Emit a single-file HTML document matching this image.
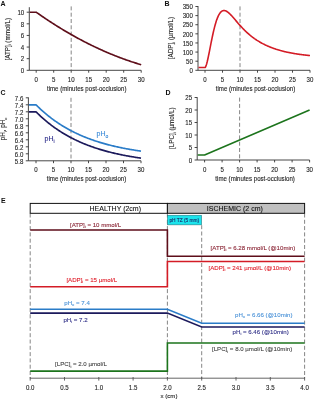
<!DOCTYPE html>
<html><head><meta charset="utf-8"><style>
html,body{margin:0;padding:0;background:#fff;}
svg{display:block;will-change:transform;}
text{font-family:"Liberation Sans", sans-serif;}
</style></head><body>
<svg width="314" height="400" viewBox="0 0 314 400">
<rect width="314" height="400" fill="#fff"/>
<path d="M29.3,7.2 V70.3 H141.2" fill="none" stroke="#333" stroke-width="0.9"/>
<path d="M26.7,70.3 H29.3" stroke="#333" stroke-width="0.9"/>
<text transform="translate(24.200000000000003,73.05) scale(1,1.07)" x="0" y="0" font-size="6.12" text-anchor="end" fill="#222" stroke="#222" stroke-width="0.1" font-weight="normal" >0</text>
<path d="M26.7,58.68 H29.3" stroke="#333" stroke-width="0.9"/>
<text transform="translate(24.200000000000003,61.43) scale(1,1.07)" x="0" y="0" font-size="6.12" text-anchor="end" fill="#222" stroke="#222" stroke-width="0.1" font-weight="normal" >2</text>
<path d="M26.7,47.06 H29.3" stroke="#333" stroke-width="0.9"/>
<text transform="translate(24.200000000000003,49.81) scale(1,1.07)" x="0" y="0" font-size="6.12" text-anchor="end" fill="#222" stroke="#222" stroke-width="0.1" font-weight="normal" >4</text>
<path d="M26.7,35.44 H29.3" stroke="#333" stroke-width="0.9"/>
<text transform="translate(24.200000000000003,38.19) scale(1,1.07)" x="0" y="0" font-size="6.12" text-anchor="end" fill="#222" stroke="#222" stroke-width="0.1" font-weight="normal" >6</text>
<path d="M26.7,23.82 H29.3" stroke="#333" stroke-width="0.9"/>
<text transform="translate(24.200000000000003,26.57) scale(1,1.07)" x="0" y="0" font-size="6.12" text-anchor="end" fill="#222" stroke="#222" stroke-width="0.1" font-weight="normal" >8</text>
<path d="M26.7,12.2 H29.3" stroke="#333" stroke-width="0.9"/>
<text transform="translate(24.200000000000003,14.95) scale(1,1.07)" x="0" y="0" font-size="6.12" text-anchor="end" fill="#222" stroke="#222" stroke-width="0.1" font-weight="normal" >10</text>
<path d="M36.20,70.3 V72.7" stroke="#333" stroke-width="0.9"/>
<text transform="translate(36.2,81.95) scale(1,1.07)" x="0" y="0" font-size="6.12" text-anchor="middle" fill="#222" stroke="#222" stroke-width="0.1" font-weight="normal" >0</text>
<path d="M53.70,70.3 V72.7" stroke="#333" stroke-width="0.9"/>
<text transform="translate(53.7,81.95) scale(1,1.07)" x="0" y="0" font-size="6.12" text-anchor="middle" fill="#222" stroke="#222" stroke-width="0.1" font-weight="normal" >5</text>
<path d="M71.20,70.3 V72.7" stroke="#333" stroke-width="0.9"/>
<text transform="translate(71.2,81.95) scale(1,1.07)" x="0" y="0" font-size="6.12" text-anchor="middle" fill="#222" stroke="#222" stroke-width="0.1" font-weight="normal" >10</text>
<path d="M88.70,70.3 V72.7" stroke="#333" stroke-width="0.9"/>
<text transform="translate(88.7,81.95) scale(1,1.07)" x="0" y="0" font-size="6.12" text-anchor="middle" fill="#222" stroke="#222" stroke-width="0.1" font-weight="normal" >15</text>
<path d="M106.20,70.3 V72.7" stroke="#333" stroke-width="0.9"/>
<text transform="translate(106.2,81.95) scale(1,1.07)" x="0" y="0" font-size="6.12" text-anchor="middle" fill="#222" stroke="#222" stroke-width="0.1" font-weight="normal" >20</text>
<path d="M123.70,70.3 V72.7" stroke="#333" stroke-width="0.9"/>
<text transform="translate(123.7,81.95) scale(1,1.07)" x="0" y="0" font-size="6.12" text-anchor="middle" fill="#222" stroke="#222" stroke-width="0.1" font-weight="normal" >25</text>
<path d="M141.20,70.3 V72.7" stroke="#333" stroke-width="0.9"/>
<text transform="translate(141.2,81.95) scale(1,1.07)" x="0" y="0" font-size="6.12" text-anchor="middle" fill="#222" stroke="#222" stroke-width="0.1" font-weight="normal" >30</text>
<text transform="translate(86.7,91.15) scale(1,1.07)" x="0" y="0" font-size="6.12" text-anchor="middle" fill="#222" stroke="#222" stroke-width="0.1" font-weight="normal" >time (minutes post-occlusion)</text>
<path d="M71.20,6.4 V70.3" stroke="#666" stroke-width="0.8" stroke-dasharray="4,2.3"/>
<text x="0.4" y="5.8" font-size="7" font-weight="bold" fill="#111">A</text>
<text transform="translate(9.9,39.2) rotate(-90) scale(1,1.07)" x="0" y="0" font-size="6.3" text-anchor="middle" fill="#222" stroke="#222" stroke-width="0.1">[ATP]<tspan font-size="4" dy="1.3">i</tspan><tspan dy="-1.3"> (mmol/L)</tspan></text>
<path d="M29.80,12.20 L36.20,12.20 L37.08,12.82 L37.95,13.43 L38.83,14.04 L39.70,14.65 L40.58,15.26 L41.45,15.86 L42.33,16.46 L43.20,17.05 L44.08,17.65 L44.95,18.24 L45.83,18.82 L46.70,19.41 L47.58,19.99 L48.45,20.57 L49.33,21.14 L50.20,21.71 L51.08,22.28 L51.95,22.85 L52.83,23.41 L53.70,23.97 L54.58,24.53 L55.45,25.08 L56.33,25.63 L57.20,26.18 L58.08,26.73 L58.95,27.27 L59.83,27.81 L60.70,28.34 L61.58,28.87 L62.45,29.40 L63.33,29.93 L64.20,30.46 L65.08,30.98 L65.95,31.49 L66.83,32.01 L67.70,32.52 L68.58,33.03 L69.45,33.53 L70.33,34.04 L71.20,34.54 L72.08,35.03 L72.95,35.53 L73.83,36.02 L74.70,36.50 L75.58,36.99 L76.45,37.47 L77.33,37.95 L78.20,38.42 L79.08,38.90 L79.95,39.37 L80.83,39.83 L81.70,40.30 L82.58,40.76 L83.45,41.21 L84.33,41.67 L85.20,42.12 L86.08,42.57 L86.95,43.01 L87.83,43.45 L88.70,43.89 L89.58,44.33 L90.45,44.76 L91.33,45.19 L92.20,45.62 L93.08,46.04 L93.95,46.46 L94.83,46.88 L95.70,47.30 L96.58,47.71 L97.45,48.12 L98.33,48.52 L99.20,48.93 L100.08,49.33 L100.95,49.72 L101.83,50.12 L102.70,50.51 L103.58,50.90 L104.45,51.28 L105.33,51.66 L106.20,52.04 L107.08,52.42 L107.95,52.79 L108.83,53.16 L109.70,53.53 L110.58,53.89 L111.45,54.25 L112.33,54.61 L113.20,54.96 L114.08,55.32 L114.95,55.66 L115.83,56.01 L116.70,56.35 L117.58,56.69 L118.45,57.03 L119.33,57.36 L120.20,57.69 L121.08,58.02 L121.95,58.35 L122.83,58.67 L123.70,58.99 L124.58,59.30 L125.45,59.61 L126.33,59.92 L127.20,60.23 L128.07,60.53 L128.95,60.83 L129.82,61.13 L130.70,61.42 L131.57,61.72 L132.45,62.00 L133.32,62.29 L134.20,62.57 L135.07,62.85 L135.95,63.13 L136.82,63.40 L137.70,63.67 L138.57,63.94 L139.45,64.20 L140.32,64.46 L141.20,64.72" fill="none" stroke="#5e0e1a" stroke-width="1.65" stroke-linejoin="round"/>
<path d="M198.0,6.0 V70.3 H310.0" fill="none" stroke="#333" stroke-width="0.9"/>
<path d="M195.4,70.3 H198.0" stroke="#333" stroke-width="0.9"/>
<text transform="translate(192.9,73.05) scale(1,1.07)" x="0" y="0" font-size="6.12" text-anchor="end" fill="#222" stroke="#222" stroke-width="0.1" font-weight="normal" >0</text>
<path d="M195.4,61.19 H198.0" stroke="#333" stroke-width="0.9"/>
<text transform="translate(192.9,63.94) scale(1,1.07)" x="0" y="0" font-size="6.12" text-anchor="end" fill="#222" stroke="#222" stroke-width="0.1" font-weight="normal" >50</text>
<path d="M195.4,52.07 H198.0" stroke="#333" stroke-width="0.9"/>
<text transform="translate(192.9,54.82) scale(1,1.07)" x="0" y="0" font-size="6.12" text-anchor="end" fill="#222" stroke="#222" stroke-width="0.1" font-weight="normal" >100</text>
<path d="M195.4,42.96 H198.0" stroke="#333" stroke-width="0.9"/>
<text transform="translate(192.9,45.71) scale(1,1.07)" x="0" y="0" font-size="6.12" text-anchor="end" fill="#222" stroke="#222" stroke-width="0.1" font-weight="normal" >150</text>
<path d="M195.4,33.84 H198.0" stroke="#333" stroke-width="0.9"/>
<text transform="translate(192.9,36.59) scale(1,1.07)" x="0" y="0" font-size="6.12" text-anchor="end" fill="#222" stroke="#222" stroke-width="0.1" font-weight="normal" >200</text>
<path d="M195.4,24.73 H198.0" stroke="#333" stroke-width="0.9"/>
<text transform="translate(192.9,27.48) scale(1,1.07)" x="0" y="0" font-size="6.12" text-anchor="end" fill="#222" stroke="#222" stroke-width="0.1" font-weight="normal" >250</text>
<path d="M195.4,15.61 H198.0" stroke="#333" stroke-width="0.9"/>
<text transform="translate(192.9,18.36) scale(1,1.07)" x="0" y="0" font-size="6.12" text-anchor="end" fill="#222" stroke="#222" stroke-width="0.1" font-weight="normal" >300</text>
<path d="M195.4,6.5 H198.0" stroke="#333" stroke-width="0.9"/>
<text transform="translate(192.9,9.25) scale(1,1.07)" x="0" y="0" font-size="6.12" text-anchor="end" fill="#222" stroke="#222" stroke-width="0.1" font-weight="normal" >350</text>
<path d="M205.00,70.3 V72.7" stroke="#333" stroke-width="0.9"/>
<text transform="translate(205.0,81.95) scale(1,1.07)" x="0" y="0" font-size="6.12" text-anchor="middle" fill="#222" stroke="#222" stroke-width="0.1" font-weight="normal" >0</text>
<path d="M222.50,70.3 V72.7" stroke="#333" stroke-width="0.9"/>
<text transform="translate(222.5,81.95) scale(1,1.07)" x="0" y="0" font-size="6.12" text-anchor="middle" fill="#222" stroke="#222" stroke-width="0.1" font-weight="normal" >5</text>
<path d="M240.00,70.3 V72.7" stroke="#333" stroke-width="0.9"/>
<text transform="translate(240.0,81.95) scale(1,1.07)" x="0" y="0" font-size="6.12" text-anchor="middle" fill="#222" stroke="#222" stroke-width="0.1" font-weight="normal" >10</text>
<path d="M257.50,70.3 V72.7" stroke="#333" stroke-width="0.9"/>
<text transform="translate(257.5,81.95) scale(1,1.07)" x="0" y="0" font-size="6.12" text-anchor="middle" fill="#222" stroke="#222" stroke-width="0.1" font-weight="normal" >15</text>
<path d="M275.00,70.3 V72.7" stroke="#333" stroke-width="0.9"/>
<text transform="translate(275.0,81.95) scale(1,1.07)" x="0" y="0" font-size="6.12" text-anchor="middle" fill="#222" stroke="#222" stroke-width="0.1" font-weight="normal" >20</text>
<path d="M292.50,70.3 V72.7" stroke="#333" stroke-width="0.9"/>
<text transform="translate(292.5,81.95) scale(1,1.07)" x="0" y="0" font-size="6.12" text-anchor="middle" fill="#222" stroke="#222" stroke-width="0.1" font-weight="normal" >25</text>
<path d="M310.00,70.3 V72.7" stroke="#333" stroke-width="0.9"/>
<text transform="translate(310.0,81.95) scale(1,1.07)" x="0" y="0" font-size="6.12" text-anchor="middle" fill="#222" stroke="#222" stroke-width="0.1" font-weight="normal" >30</text>
<text transform="translate(255.5,91.15) scale(1,1.07)" x="0" y="0" font-size="6.12" text-anchor="middle" fill="#222" stroke="#222" stroke-width="0.1" font-weight="normal" >time (minutes post-occlusion)</text>
<path d="M240.00,6.4 V70.3" stroke="#666" stroke-width="0.8" stroke-dasharray="4,2.3"/>
<text x="164.6" y="5.8" font-size="7" font-weight="bold" fill="#111">B</text>
<text transform="translate(173.3,38.0) rotate(-90) scale(1,1.07)" x="0" y="0" font-size="6.3" text-anchor="middle" fill="#222" stroke="#222" stroke-width="0.1">[ADP]<tspan font-size="4" dy="1.3">i</tspan><tspan dy="-1.3"> (µmol/L)</tspan></text>
<path d="M198.50,67.57 L205.00,67.57 L205.44,67.13 L205.88,66.22 L206.31,64.98 L206.75,63.49 L207.19,61.80 L207.62,59.95 L208.06,57.97 L208.50,55.89 L208.94,53.75 L209.38,51.55 L209.81,49.33 L210.25,47.09 L210.69,44.86 L211.12,42.65 L211.56,40.47 L212.00,38.33 L212.44,36.24 L212.88,34.22 L213.31,32.26 L213.75,30.38 L214.19,28.58 L214.62,26.86 L215.06,25.22 L215.50,23.68 L215.94,22.23 L216.38,20.87 L216.81,19.60 L217.25,18.42 L217.69,17.33 L218.12,16.34 L218.56,15.43 L219.00,14.61 L219.44,13.87 L219.88,13.22 L220.31,12.64 L220.75,12.15 L221.19,11.72 L221.62,11.37 L222.06,11.08 L222.50,10.86 L222.94,10.70 L223.38,10.60 L223.81,10.55 L224.25,10.56 L224.69,10.61 L225.12,10.71 L225.56,10.85 L226.00,11.03 L226.44,11.25 L226.88,11.50 L227.31,11.78 L227.75,12.09 L228.19,12.43 L228.62,12.79 L229.06,13.17 L229.50,13.58 L229.94,14.00 L230.38,14.43 L230.81,14.88 L231.25,15.35 L231.69,15.82 L232.12,16.30 L232.56,16.79 L233.00,17.29 L233.44,17.79 L233.88,18.30 L234.31,18.81 L234.75,19.32 L235.19,19.84 L235.62,20.35 L236.06,20.87 L236.50,21.38 L236.94,21.89 L237.38,22.40 L237.81,22.91 L238.25,23.42 L238.69,23.92 L239.12,24.42 L239.56,24.91 L240.00,25.40 L240.44,25.89 L240.88,26.37 L241.31,26.85 L241.75,27.32 L242.19,27.78 L242.62,28.24 L243.06,28.70 L243.50,29.15 L243.94,29.59 L244.38,30.03 L244.81,30.46 L245.25,30.89 L245.69,31.31 L246.12,31.72 L246.56,32.13 L247.00,32.54 L247.44,32.94 L247.88,33.33 L248.31,33.71 L248.75,34.09 L249.19,34.47 L249.62,34.84 L250.06,35.20 L250.50,35.56 L250.94,35.92 L251.38,36.26 L251.81,36.61 L252.25,36.94 L252.69,37.28 L253.12,37.60 L253.56,37.93 L254.00,38.24 L254.44,38.56 L254.88,38.86 L255.31,39.17 L255.75,39.46 L256.19,39.76 L256.62,40.05 L257.06,40.33 L257.50,40.61 L257.94,40.89 L258.38,41.16 L258.81,41.42 L259.25,41.69 L259.69,41.95 L260.12,42.20 L260.56,42.45 L261.00,42.70 L261.44,42.94 L261.88,43.18 L262.31,43.42 L262.75,43.65 L263.19,43.88 L263.62,44.10 L264.06,44.32 L264.50,44.54 L264.94,44.75 L265.38,44.97 L265.81,45.17 L266.25,45.38 L266.69,45.58 L267.12,45.78 L267.56,45.97 L268.00,46.16 L268.44,46.35 L268.88,46.54 L269.31,46.72 L269.75,46.90 L270.19,47.08 L270.62,47.25 L271.06,47.42 L271.50,47.59 L271.94,47.76 L272.38,47.92 L272.81,48.08 L273.25,48.24 L273.69,48.40 L274.12,48.55 L274.56,48.70 L275.00,48.85 L275.44,49.00 L275.88,49.14 L276.31,49.29 L276.75,49.43 L277.19,49.56 L277.62,49.70 L278.06,49.83 L278.50,49.96 L278.94,50.09 L279.38,50.22 L279.81,50.35 L280.25,50.47 L280.69,50.59 L281.12,50.71 L281.56,50.83 L282.00,50.94 L282.44,51.06 L282.88,51.17 L283.31,51.28 L283.75,51.39 L284.19,51.49 L284.62,51.60 L285.06,51.70 L285.50,51.81 L285.94,51.91 L286.38,52.00 L286.81,52.10 L287.25,52.20 L287.69,52.29 L288.12,52.38 L288.56,52.48 L289.00,52.57 L289.44,52.65 L289.88,52.74 L290.31,52.83 L290.75,52.91 L291.19,52.99 L291.62,53.08 L292.06,53.16 L292.50,53.24 L292.94,53.31 L293.38,53.39 L293.81,53.47 L294.25,53.54 L294.69,53.61 L295.12,53.69 L295.56,53.76 L296.00,53.83 L296.44,53.89 L296.88,53.96 L297.31,54.03 L297.75,54.09 L298.19,54.16 L298.62,54.22 L299.06,54.28 L299.50,54.35 L299.94,54.41 L300.38,54.47 L300.81,54.52 L301.25,54.58 L301.69,54.64 L302.12,54.70 L302.56,54.75 L303.00,54.80 L303.44,54.86 L303.88,54.91 L304.31,54.96 L304.75,55.01 L305.19,55.06 L305.62,55.11 L306.06,55.16 L306.50,55.21 L306.94,55.26 L307.38,55.30 L307.81,55.35 L308.25,55.39 L308.69,55.44 L309.12,55.48 L309.56,55.52 L310.00,55.56" fill="none" stroke="#d41c26" stroke-width="1.6" stroke-linejoin="round"/>
<path d="M28.4,97.4 V160.8 H141.0" fill="none" stroke="#333" stroke-width="0.9"/>
<path d="M25.799999999999997,160.8 H28.4" stroke="#333" stroke-width="0.9"/>
<text transform="translate(23.299999999999997,163.55) scale(1,1.07)" x="0" y="0" font-size="6.12" text-anchor="end" fill="#222" stroke="#222" stroke-width="0.1" font-weight="normal" >5.8</text>
<path d="M25.799999999999997,153.8 H28.4" stroke="#333" stroke-width="0.9"/>
<text transform="translate(23.299999999999997,156.55) scale(1,1.07)" x="0" y="0" font-size="6.12" text-anchor="end" fill="#222" stroke="#222" stroke-width="0.1" font-weight="normal" >6.0</text>
<path d="M25.799999999999997,146.8 H28.4" stroke="#333" stroke-width="0.9"/>
<text transform="translate(23.299999999999997,149.55) scale(1,1.07)" x="0" y="0" font-size="6.12" text-anchor="end" fill="#222" stroke="#222" stroke-width="0.1" font-weight="normal" >6.2</text>
<path d="M25.799999999999997,139.8 H28.4" stroke="#333" stroke-width="0.9"/>
<text transform="translate(23.299999999999997,142.55) scale(1,1.07)" x="0" y="0" font-size="6.12" text-anchor="end" fill="#222" stroke="#222" stroke-width="0.1" font-weight="normal" >6.4</text>
<path d="M25.799999999999997,132.8 H28.4" stroke="#333" stroke-width="0.9"/>
<text transform="translate(23.299999999999997,135.55) scale(1,1.07)" x="0" y="0" font-size="6.12" text-anchor="end" fill="#222" stroke="#222" stroke-width="0.1" font-weight="normal" >6.6</text>
<path d="M25.799999999999997,125.8 H28.4" stroke="#333" stroke-width="0.9"/>
<text transform="translate(23.299999999999997,128.55) scale(1,1.07)" x="0" y="0" font-size="6.12" text-anchor="end" fill="#222" stroke="#222" stroke-width="0.1" font-weight="normal" >6.8</text>
<path d="M25.799999999999997,118.8 H28.4" stroke="#333" stroke-width="0.9"/>
<text transform="translate(23.299999999999997,121.55) scale(1,1.07)" x="0" y="0" font-size="6.12" text-anchor="end" fill="#222" stroke="#222" stroke-width="0.1" font-weight="normal" >7.0</text>
<path d="M25.799999999999997,111.8 H28.4" stroke="#333" stroke-width="0.9"/>
<text transform="translate(23.299999999999997,114.55) scale(1,1.07)" x="0" y="0" font-size="6.12" text-anchor="end" fill="#222" stroke="#222" stroke-width="0.1" font-weight="normal" >7.2</text>
<path d="M25.799999999999997,104.8 H28.4" stroke="#333" stroke-width="0.9"/>
<text transform="translate(23.299999999999997,107.55) scale(1,1.07)" x="0" y="0" font-size="6.12" text-anchor="end" fill="#222" stroke="#222" stroke-width="0.1" font-weight="normal" >7.4</text>
<path d="M25.799999999999997,97.8 H28.4" stroke="#333" stroke-width="0.9"/>
<text transform="translate(23.299999999999997,100.55) scale(1,1.07)" x="0" y="0" font-size="6.12" text-anchor="end" fill="#222" stroke="#222" stroke-width="0.1" font-weight="normal" >7.6</text>
<path d="M36.00,160.8 V163.20000000000002" stroke="#333" stroke-width="0.9"/>
<text transform="translate(36.0,172.15) scale(1,1.07)" x="0" y="0" font-size="6.12" text-anchor="middle" fill="#222" stroke="#222" stroke-width="0.1" font-weight="normal" >0</text>
<path d="M53.50,160.8 V163.20000000000002" stroke="#333" stroke-width="0.9"/>
<text transform="translate(53.5,172.15) scale(1,1.07)" x="0" y="0" font-size="6.12" text-anchor="middle" fill="#222" stroke="#222" stroke-width="0.1" font-weight="normal" >5</text>
<path d="M71.00,160.8 V163.20000000000002" stroke="#333" stroke-width="0.9"/>
<text transform="translate(71.0,172.15) scale(1,1.07)" x="0" y="0" font-size="6.12" text-anchor="middle" fill="#222" stroke="#222" stroke-width="0.1" font-weight="normal" >10</text>
<path d="M88.50,160.8 V163.20000000000002" stroke="#333" stroke-width="0.9"/>
<text transform="translate(88.5,172.15) scale(1,1.07)" x="0" y="0" font-size="6.12" text-anchor="middle" fill="#222" stroke="#222" stroke-width="0.1" font-weight="normal" >15</text>
<path d="M106.00,160.8 V163.20000000000002" stroke="#333" stroke-width="0.9"/>
<text transform="translate(106.0,172.15) scale(1,1.07)" x="0" y="0" font-size="6.12" text-anchor="middle" fill="#222" stroke="#222" stroke-width="0.1" font-weight="normal" >20</text>
<path d="M123.50,160.8 V163.20000000000002" stroke="#333" stroke-width="0.9"/>
<text transform="translate(123.5,172.15) scale(1,1.07)" x="0" y="0" font-size="6.12" text-anchor="middle" fill="#222" stroke="#222" stroke-width="0.1" font-weight="normal" >25</text>
<path d="M141.00,160.8 V163.20000000000002" stroke="#333" stroke-width="0.9"/>
<text transform="translate(141.0,172.15) scale(1,1.07)" x="0" y="0" font-size="6.12" text-anchor="middle" fill="#222" stroke="#222" stroke-width="0.1" font-weight="normal" >30</text>
<text transform="translate(86.5,181.45) scale(1,1.07)" x="0" y="0" font-size="6.12" text-anchor="middle" fill="#222" stroke="#222" stroke-width="0.1" font-weight="normal" >time (minutes post-occlusion)</text>
<path d="M71.00,97.8 V160.8" stroke="#666" stroke-width="0.8" stroke-dasharray="4,2.3"/>
<text x="0.6" y="95.3" font-size="7" font-weight="bold" fill="#111">C</text>
<text transform="translate(5.4,128.8) rotate(-90) scale(1,1.07)" x="0" y="0" font-size="6.3" text-anchor="middle" fill="#222" stroke="#222" stroke-width="0.1">pH<tspan font-size="4" dy="1.3">i</tspan><tspan dy="-1.3">, pH</tspan><tspan font-size="4" dy="1.3">o</tspan><tspan dy="-1.3"></tspan></text>
<path d="M28.90,104.80 L36.00,104.80 L36.88,105.67 L37.75,106.53 L38.62,107.38 L39.50,108.21 L40.38,109.03 L41.25,109.84 L42.12,110.63 L43.00,111.41 L43.88,112.18 L44.75,112.93 L45.62,113.67 L46.50,114.40 L47.38,115.12 L48.25,115.83 L49.12,116.52 L50.00,117.21 L50.88,117.88 L51.75,118.54 L52.62,119.19 L53.50,119.83 L54.38,120.46 L55.25,121.08 L56.12,121.69 L57.00,122.29 L57.88,122.88 L58.75,123.47 L59.62,124.04 L60.50,124.60 L61.38,125.15 L62.25,125.70 L63.12,126.23 L64.00,126.76 L64.88,127.28 L65.75,127.79 L66.62,128.29 L67.50,128.78 L68.38,129.27 L69.25,129.74 L70.12,130.21 L71.00,130.67 L71.88,131.13 L72.75,131.58 L73.62,132.02 L74.50,132.45 L75.38,132.87 L76.25,133.29 L77.12,133.70 L78.00,134.11 L78.88,134.51 L79.75,134.90 L80.62,135.29 L81.50,135.67 L82.38,136.04 L83.25,136.41 L84.12,136.77 L85.00,137.13 L85.88,137.47 L86.75,137.82 L87.62,138.16 L88.50,138.49 L89.38,138.82 L90.25,139.14 L91.12,139.46 L92.00,139.77 L92.88,140.08 L93.75,140.38 L94.62,140.68 L95.50,140.97 L96.38,141.26 L97.25,141.54 L98.12,141.82 L99.00,142.09 L99.88,142.36 L100.75,142.63 L101.62,142.89 L102.50,143.14 L103.38,143.39 L104.25,143.64 L105.12,143.89 L106.00,144.13 L106.88,144.36 L107.75,144.60 L108.62,144.83 L109.50,145.05 L110.38,145.27 L111.25,145.49 L112.12,145.70 L113.00,145.91 L113.88,146.12 L114.75,146.33 L115.62,146.53 L116.50,146.72 L117.38,146.92 L118.25,147.11 L119.12,147.30 L120.00,147.48 L120.88,147.66 L121.75,147.84 L122.62,148.02 L123.50,148.19 L124.38,148.36 L125.25,148.53 L126.12,148.70 L127.00,148.86 L127.88,149.02 L128.75,149.17 L129.62,149.33 L130.50,149.48 L131.38,149.63 L132.25,149.78 L133.12,149.92 L134.00,150.06 L134.88,150.20 L135.75,150.34 L136.62,150.48 L137.50,150.61 L138.38,150.74 L139.25,150.87 L140.12,151.00 L141.00,151.12" fill="none" stroke="#2a7cc8" stroke-width="1.65" stroke-linejoin="round"/>
<path d="M28.90,111.80 L36.00,111.80 L36.88,112.67 L37.75,113.53 L38.62,114.38 L39.50,115.21 L40.38,116.03 L41.25,116.84 L42.12,117.63 L43.00,118.41 L43.88,119.18 L44.75,119.93 L45.62,120.67 L46.50,121.40 L47.38,122.12 L48.25,122.83 L49.12,123.52 L50.00,124.21 L50.88,124.88 L51.75,125.54 L52.62,126.19 L53.50,126.83 L54.38,127.46 L55.25,128.08 L56.12,128.69 L57.00,129.29 L57.88,129.88 L58.75,130.47 L59.62,131.04 L60.50,131.60 L61.38,132.15 L62.25,132.70 L63.12,133.23 L64.00,133.76 L64.88,134.28 L65.75,134.79 L66.62,135.29 L67.50,135.78 L68.38,136.27 L69.25,136.74 L70.12,137.21 L71.00,137.67 L71.88,138.13 L72.75,138.58 L73.62,139.02 L74.50,139.45 L75.38,139.87 L76.25,140.29 L77.12,140.70 L78.00,141.11 L78.88,141.51 L79.75,141.90 L80.62,142.29 L81.50,142.67 L82.38,143.04 L83.25,143.41 L84.12,143.77 L85.00,144.13 L85.88,144.47 L86.75,144.82 L87.62,145.16 L88.50,145.49 L89.38,145.82 L90.25,146.14 L91.12,146.46 L92.00,146.77 L92.88,147.08 L93.75,147.38 L94.62,147.68 L95.50,147.97 L96.38,148.26 L97.25,148.54 L98.12,148.82 L99.00,149.09 L99.88,149.36 L100.75,149.63 L101.62,149.89 L102.50,150.14 L103.38,150.39 L104.25,150.64 L105.12,150.89 L106.00,151.13 L106.88,151.36 L107.75,151.60 L108.62,151.83 L109.50,152.05 L110.38,152.27 L111.25,152.49 L112.12,152.70 L113.00,152.91 L113.88,153.12 L114.75,153.33 L115.62,153.53 L116.50,153.72 L117.38,153.92 L118.25,154.11 L119.12,154.30 L120.00,154.48 L120.88,154.66 L121.75,154.84 L122.62,155.02 L123.50,155.19 L124.38,155.36 L125.25,155.53 L126.12,155.70 L127.00,155.86 L127.88,156.02 L128.75,156.17 L129.62,156.33 L130.50,156.48 L131.38,156.63 L132.25,156.78 L133.12,156.92 L134.00,157.06 L134.88,157.20 L135.75,157.34 L136.62,157.48 L137.50,157.61 L138.38,157.74 L139.25,157.87 L140.12,158.00 L141.00,158.12" fill="none" stroke="#1c1a5c" stroke-width="1.65" stroke-linejoin="round"/>
<text x="44.5" y="140.6" font-size="7" text-anchor="start" fill="#2a2a8a" stroke="#2a2a8a" stroke-width="0.1" font-weight="normal" >pH<tspan font-size="5" dy="2.2">i</tspan></text>
<text x="96.6" y="135.8" font-size="7" text-anchor="start" fill="#3a8ad8" stroke="#3a8ad8" stroke-width="0.1" font-weight="normal" >pH<tspan font-size="5" dy="2.2">o</tspan></text>
<path d="M197.2,97.2 V160.0 H309.6" fill="none" stroke="#333" stroke-width="0.9"/>
<path d="M194.6,160.0 H197.2" stroke="#333" stroke-width="0.9"/>
<text transform="translate(192.1,162.75) scale(1,1.07)" x="0" y="0" font-size="6.12" text-anchor="end" fill="#222" stroke="#222" stroke-width="0.1" font-weight="normal" >0</text>
<path d="M194.6,147.5 H197.2" stroke="#333" stroke-width="0.9"/>
<text transform="translate(192.1,150.25) scale(1,1.07)" x="0" y="0" font-size="6.12" text-anchor="end" fill="#222" stroke="#222" stroke-width="0.1" font-weight="normal" >5</text>
<path d="M194.6,135.0 H197.2" stroke="#333" stroke-width="0.9"/>
<text transform="translate(192.1,137.75) scale(1,1.07)" x="0" y="0" font-size="6.12" text-anchor="end" fill="#222" stroke="#222" stroke-width="0.1" font-weight="normal" >10</text>
<path d="M194.6,122.5 H197.2" stroke="#333" stroke-width="0.9"/>
<text transform="translate(192.1,125.25) scale(1,1.07)" x="0" y="0" font-size="6.12" text-anchor="end" fill="#222" stroke="#222" stroke-width="0.1" font-weight="normal" >15</text>
<path d="M194.6,110.0 H197.2" stroke="#333" stroke-width="0.9"/>
<text transform="translate(192.1,112.75) scale(1,1.07)" x="0" y="0" font-size="6.12" text-anchor="end" fill="#222" stroke="#222" stroke-width="0.1" font-weight="normal" >20</text>
<path d="M194.6,97.5 H197.2" stroke="#333" stroke-width="0.9"/>
<text transform="translate(192.1,100.25) scale(1,1.07)" x="0" y="0" font-size="6.12" text-anchor="end" fill="#222" stroke="#222" stroke-width="0.1" font-weight="normal" >25</text>
<path d="M204.60,160.0 V162.4" stroke="#333" stroke-width="0.9"/>
<text transform="translate(204.6,172.15) scale(1,1.07)" x="0" y="0" font-size="6.12" text-anchor="middle" fill="#222" stroke="#222" stroke-width="0.1" font-weight="normal" >0</text>
<path d="M222.10,160.0 V162.4" stroke="#333" stroke-width="0.9"/>
<text transform="translate(222.1,172.15) scale(1,1.07)" x="0" y="0" font-size="6.12" text-anchor="middle" fill="#222" stroke="#222" stroke-width="0.1" font-weight="normal" >5</text>
<path d="M239.60,160.0 V162.4" stroke="#333" stroke-width="0.9"/>
<text transform="translate(239.6,172.15) scale(1,1.07)" x="0" y="0" font-size="6.12" text-anchor="middle" fill="#222" stroke="#222" stroke-width="0.1" font-weight="normal" >10</text>
<path d="M257.10,160.0 V162.4" stroke="#333" stroke-width="0.9"/>
<text transform="translate(257.1,172.15) scale(1,1.07)" x="0" y="0" font-size="6.12" text-anchor="middle" fill="#222" stroke="#222" stroke-width="0.1" font-weight="normal" >15</text>
<path d="M274.60,160.0 V162.4" stroke="#333" stroke-width="0.9"/>
<text transform="translate(274.6,172.15) scale(1,1.07)" x="0" y="0" font-size="6.12" text-anchor="middle" fill="#222" stroke="#222" stroke-width="0.1" font-weight="normal" >20</text>
<path d="M292.10,160.0 V162.4" stroke="#333" stroke-width="0.9"/>
<text transform="translate(292.1,172.15) scale(1,1.07)" x="0" y="0" font-size="6.12" text-anchor="middle" fill="#222" stroke="#222" stroke-width="0.1" font-weight="normal" >25</text>
<path d="M309.60,160.0 V162.4" stroke="#333" stroke-width="0.9"/>
<text transform="translate(309.6,172.15) scale(1,1.07)" x="0" y="0" font-size="6.12" text-anchor="middle" fill="#222" stroke="#222" stroke-width="0.1" font-weight="normal" >30</text>
<text transform="translate(255.1,181.45) scale(1,1.07)" x="0" y="0" font-size="6.12" text-anchor="middle" fill="#222" stroke="#222" stroke-width="0.1" font-weight="normal" >time (minutes post-occlusion)</text>
<path d="M239.60,97.6 V160.0" stroke="#666" stroke-width="0.8" stroke-dasharray="4,2.3"/>
<text x="165.5" y="94.5" font-size="7" font-weight="bold" fill="#111">D</text>
<text transform="translate(174.1,128.2) rotate(-90) scale(1,1.07)" x="0" y="0" font-size="6.3" text-anchor="middle" fill="#222" stroke="#222" stroke-width="0.1">[LPC]<tspan font-size="4" dy="1.3">i</tspan><tspan dy="-1.3"> (µmol/L)</tspan></text>
<path d="M197.70,155.00 L204.60,155.00 L309.60,110.00" fill="none" stroke="#1c741c" stroke-width="1.6" stroke-linejoin="round"/>
<text x="1.1" y="203.2" font-size="7" font-weight="bold" fill="#111">E</text>
<path d="M30.20,213.5 V378.4" stroke="#666" stroke-width="0.8" stroke-dasharray="4,2.3"/>
<path d="M167.40,213.5 V378.4" stroke="#666" stroke-width="0.8" stroke-dasharray="4,2.3"/>
<path d="M201.70,225.2 V378.4" stroke="#666" stroke-width="0.8" stroke-dasharray="4,2.3"/>
<path d="M304.60,213.5 V378.4" stroke="#666" stroke-width="0.8" stroke-dasharray="4,2.3"/>
<rect x="30.20" y="203.4" width="137.20" height="9.9" fill="#fff" stroke="#111" stroke-width="1"/>
<rect x="167.40" y="203.4" width="137.20" height="9.9" fill="#c0c0c0" stroke="#111" stroke-width="1"/>
<text x="115.3" y="211.0" font-size="7" text-anchor="middle" fill="#111" stroke="#111" stroke-width="0.1" font-weight="normal" >HEALTHY (2cm)</text>
<text x="234.8" y="211.0" font-size="7" text-anchor="middle" fill="#111" stroke="#111" stroke-width="0.1" font-weight="normal" >ISCHEMIC (2 cm)</text>
<rect x="167.40" y="215.2" width="34.30" height="9.7" fill="#1ce4ec" stroke="#2a5a60" stroke-width="0.45"/>
<text x="184.3" y="221.5" font-size="4.8" text-anchor="middle" fill="#1a2a6a" stroke="#1a2a6a" stroke-width="0.1" font-weight="normal" >pH TZ (5 mm)</text>
<path d="M30.20,230.0 H167.40 V256.2 H304.60" fill="none" stroke="#5e0e1a" stroke-width="1.6"/>
<path d="M30.20,286.8 H167.40 V261.5 H304.60" fill="none" stroke="#d41c26" stroke-width="1.6"/>
<path d="M30.20,371.1 H167.40 V343.0 H304.60" fill="none" stroke="#1c741c" stroke-width="1.6"/>
<path d="M30.20,309.3 H167.40 L201.70,323.2 H304.60" fill="none" stroke="#2a7cc8" stroke-width="1.6"/>
<path d="M30.20,313.1 H167.40 L201.70,327.0 H304.60" fill="none" stroke="#1c1a5c" stroke-width="1.6"/>
<text x="70.0" y="227.0" font-size="6.12" text-anchor="start" fill="#8a2434" stroke="#8a2434" stroke-width="0.1" font-weight="normal" >[ATP]<tspan font-size="4" dy="1.3">i</tspan><tspan dy="-1.3"> = 10 mmol/L</tspan></text>
<text x="66.4" y="282.0" font-size="6.12" text-anchor="start" fill="#e0202c" stroke="#e0202c" stroke-width="0.1" font-weight="normal" >[ADP]<tspan font-size="4" dy="1.3">i</tspan><tspan dy="-1.3"> = 15 µmol/L</tspan></text>
<text x="64.3" y="305.1" font-size="6.12" text-anchor="start" fill="#4a92d8" stroke="#4a92d8" stroke-width="0.1" font-weight="normal" >pH<tspan font-size="4" dy="1.3">o</tspan><tspan dy="-1.3"> = 7.4</tspan></text>
<text x="63.4" y="321.5" font-size="6.12" text-anchor="start" fill="#303088" stroke="#303088" stroke-width="0.1" font-weight="normal" >pH<tspan font-size="4" dy="1.3">i</tspan><tspan dy="-1.3"> = 7.2</tspan></text>
<text x="55.1" y="366.4" font-size="6.12" text-anchor="start" fill="#444" stroke="#444" stroke-width="0.1" font-weight="normal" >[LPC]<tspan font-size="4" dy="1.3">i</tspan><tspan dy="-1.3"> = 2.0 µmol/L</tspan></text>
<text x="210.6" y="249.9" font-size="6.12" text-anchor="start" fill="#8a2434" stroke="#8a2434" stroke-width="0.1" font-weight="normal" >[ATP]<tspan font-size="4" dy="1.3">i</tspan><tspan dy="-1.3"> = 6.28 mmol/L (@10min)</tspan></text>
<text x="208.5" y="269.6" font-size="6.12" text-anchor="start" fill="#e0202c" stroke="#e0202c" stroke-width="0.1" font-weight="normal" >[ADP]<tspan font-size="4" dy="1.3">i</tspan><tspan dy="-1.3"> = 241 µmol/L (@10min)</tspan></text>
<text x="235.0" y="316.8" font-size="6.12" text-anchor="start" fill="#4a92d8" stroke="#4a92d8" stroke-width="0.1" font-weight="normal" >pH<tspan font-size="4" dy="1.3">o</tspan><tspan dy="-1.3"> = 6.66 (@10min)</tspan></text>
<text x="232.6" y="334.1" font-size="6.12" text-anchor="start" fill="#303088" stroke="#303088" stroke-width="0.1" font-weight="normal" >pH<tspan font-size="4" dy="1.3">i</tspan><tspan dy="-1.3"> = 6.46 (@10min)</tspan></text>
<text x="212.0" y="351.3" font-size="6.12" text-anchor="start" fill="#444" stroke="#444" stroke-width="0.1" font-weight="normal" >[LPC]<tspan font-size="4" dy="1.3">i</tspan><tspan dy="-1.3"> = 8.0 µmol/L (@10min)</tspan></text>
<path d="M30.20,378.2 H304.60" stroke="#555" stroke-width="0.9"/>
<path d="M30.20,377.0 V380.6" stroke="#555" stroke-width="0.9"/>
<text transform="translate(30.2,389.65) scale(1,1.07)" x="0" y="0" font-size="6.12" text-anchor="middle" fill="#222" stroke="#222" stroke-width="0.1" font-weight="normal" >0.0</text>
<path d="M64.50,377.0 V380.6" stroke="#555" stroke-width="0.9"/>
<text transform="translate(64.5,389.65) scale(1,1.07)" x="0" y="0" font-size="6.12" text-anchor="middle" fill="#222" stroke="#222" stroke-width="0.1" font-weight="normal" >0.5</text>
<path d="M98.80,377.0 V380.6" stroke="#555" stroke-width="0.9"/>
<text transform="translate(98.8,389.65) scale(1,1.07)" x="0" y="0" font-size="6.12" text-anchor="middle" fill="#222" stroke="#222" stroke-width="0.1" font-weight="normal" >1.0</text>
<path d="M133.10,377.0 V380.6" stroke="#555" stroke-width="0.9"/>
<text transform="translate(133.1,389.65) scale(1,1.07)" x="0" y="0" font-size="6.12" text-anchor="middle" fill="#222" stroke="#222" stroke-width="0.1" font-weight="normal" >1.5</text>
<path d="M167.40,377.0 V380.6" stroke="#555" stroke-width="0.9"/>
<text transform="translate(167.4,389.65) scale(1,1.07)" x="0" y="0" font-size="6.12" text-anchor="middle" fill="#222" stroke="#222" stroke-width="0.1" font-weight="normal" >2.0</text>
<path d="M201.70,377.0 V380.6" stroke="#555" stroke-width="0.9"/>
<text transform="translate(201.7,389.65) scale(1,1.07)" x="0" y="0" font-size="6.12" text-anchor="middle" fill="#222" stroke="#222" stroke-width="0.1" font-weight="normal" >2.5</text>
<path d="M236.00,377.0 V380.6" stroke="#555" stroke-width="0.9"/>
<text transform="translate(236.0,389.65) scale(1,1.07)" x="0" y="0" font-size="6.12" text-anchor="middle" fill="#222" stroke="#222" stroke-width="0.1" font-weight="normal" >3.0</text>
<path d="M270.30,377.0 V380.6" stroke="#555" stroke-width="0.9"/>
<text transform="translate(270.3,389.65) scale(1,1.07)" x="0" y="0" font-size="6.12" text-anchor="middle" fill="#222" stroke="#222" stroke-width="0.1" font-weight="normal" >3.5</text>
<path d="M304.60,377.0 V380.6" stroke="#555" stroke-width="0.9"/>
<text transform="translate(304.6,389.65) scale(1,1.07)" x="0" y="0" font-size="6.12" text-anchor="middle" fill="#222" stroke="#222" stroke-width="0.1" font-weight="normal" >4.0</text>
<text x="169.0" y="397.6" font-size="6.12" text-anchor="middle" fill="#222" stroke="#222" stroke-width="0.1" font-weight="normal" >x (cm)</text>
</svg></body></html>
